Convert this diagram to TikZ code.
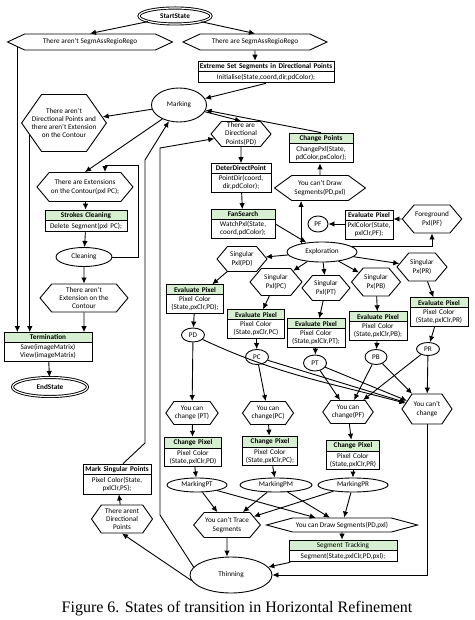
\documentclass[tikz,border=0pt]{standalone}
\usepackage{fontspec}
\setmainfont{Carlito}
\newfontfamily\capfont{Liberation Serif}
\usetikzlibrary{shapes.geometric, shapes.symbols, shapes.multipart, arrows.meta, positioning}
\definecolor{hdrgreen}{RGB}{214,239,208}

\begin{document}
\begin{tikzpicture}[x=1pt, y=-1pt, >={Latex[length=6pt,width=5.5pt]}, line width=0.9pt,
    every node/.style={font=\fontsize{7.2}{8.2}\selectfont},
    hexa/.style={draw, signal, signal to=east and west, signal pointer angle=100, inner sep=1pt, align=center},
    state/.style={draw, ellipse, inner sep=0pt},
    startend/.style={draw, ellipse, double, double distance=1.2pt, inner sep=0pt, font=\fontsize{7.2}{8.2}\selectfont\bfseries},
    box/.style={draw, rectangle split, rectangle split parts=2, rectangle split part fill={hdrgreen,white}, inner xsep=1pt, inner ysep=1.8pt, align=center},
    plainbox/.style={box, rectangle split part fill={white,white}}]
  \useasboundingbox (0,0) rectangle (474,620);
  % start and the two first choices
  \node[startend, minimum width=72pt, minimum height=16pt] (start) at (175,16) {StartState};
  \node[hexa, minimum width=165pt, minimum height=16pt, signal pointer angle=50] (noseg) at (90,42) {There aren't SegmAssRegioRego};
  \node[hexa, minimum width=144pt, minimum height=16pt, signal pointer angle=50] (yesseg) at (255,42) {There are SegmAssRegioRego};
  \node[plainbox, text width=134pt] (extreme) at (266,72) {\textbf{Extreme Set Segments in Directional Points}\nodepart{two}Initialise(State,coord,dir,pdColor);};
  % marking
  \node[state, minimum width=55pt, minimum height=34pt] (marking) at (179,105) {Marking};
  \node[hexa, minimum width=83pt, minimum height=57pt, signal pointer angle=110, inner xsep=-10pt] (nodir) at (64,123) {There aren't\\Directional Points and\\there aren't Extension\\on the Contour};
  \node[hexa, minimum width=60pt, minimum height=25pt, inner ysep=0pt] (dirpts) at (241,134) {There are\\Directional\\Points(PD)};
  \node[box, text width=62pt] (chgpts) at (321,148) {\textbf{Change Points}\nodepart{two}ChangePxl(State,\\pdColor,pxColor);};
  \node[plainbox, text width=58pt] (deter) at (241,178) {\textbf{DeterDirectPoint}\nodepart{two}PointDir(coord,\\dir,pdColor);};
  \node[box, text width=62pt] (fan) at (243,224) {\textbf{FanSearch}\nodepart{two}WatchPxl(State,\\coord,pdColor);};
  \node[hexa, minimum width=91pt, minimum height=25pt, signal pointer angle=72] (cantdraw) at (320,188) {You can't Draw\\Segments(PD,pxl)};
  \node[state, minimum width=20pt, minimum height=16pt] (pf) at (318,224) {PF};
  \node[plainbox, text width=46pt] (evalpf) at (369,225) {\textbf{Evaluate Pixel}\nodepart{two}PxlColor(State,\\pxlClr,PF);};
  \node[hexa, minimum width=59pt, minimum height=28pt] (fore) at (432,219) {Foreground\\Pxl(PF)};
  % exploration
  \node[state, minimum width=70pt, minimum height=20pt] (explor) at (322,252) {Exploration};
  \node[hexa, minimum width=50pt, minimum height=25pt] (singpd) at (242,259) {Singular\\Pxl(PD)};
  \node[hexa, minimum width=52pt, minimum height=27pt] (singpc) at (276,282) {Singular\\Pxl(PC)};
  \node[hexa, minimum width=48pt, minimum height=25pt] (singpt) at (326,288) {Singular\\Pxl(PT)};
  \node[hexa, minimum width=49pt, minimum height=28pt] (singpb) at (376,282) {Singular\\Px(PB)};
  \node[hexa, minimum width=50pt, minimum height=28pt] (singpr) at (422,267) {Singular\\Px(PR)};
  \node[box, text width=55pt] (evalpd) at (195,299) {\textbf{Evaluate Pixel}\nodepart{two}Pixel Color\\(State,pxClr,PD);};
  \node[box, text width=55pt] (evalpc) at (256,324) {\textbf{Evaluate Pixel}\nodepart{two}Pixel Color\\(State,pxClr,PC)};
  \node[box, text width=56pt] (evalpt) at (316,333) {\textbf{Evaluate Pixel}\nodepart{two}Pixel Color\\(State,pxlClr,PT);};
  \node[box, text width=56pt] (evalpb) at (378,326) {\textbf{Evaluate Pixel}\nodepart{two}Pixel Color\\(State,pxlClr,PB);};
  \node[box, text width=56pt] (evalpr) at (439,312) {\textbf{Evaluate Pixel}\nodepart{two}Pixel Color\\(State,pxlClr,PR)};
  \node[state, minimum width=23pt, minimum height=14pt] (pd) at (193,335) {PD};
  \node[state, minimum width=23pt, minimum height=15pt] (pc) at (257,357) {PC};
  \node[state, minimum width=23pt, minimum height=16pt] (pt) at (315,363) {PT};
  \node[state, minimum width=22pt, minimum height=15pt] (pb) at (376,357) {PB};
  \node[state, minimum width=23pt, minimum height=13pt] (pr) at (428,349) {PR};
  % changes
  \node[hexa, minimum width=50pt, minimum height=23pt, signal pointer angle=110] (chgpt) at (192,413) {You can\\change (PT)};
  \node[hexa, minimum width=50pt, minimum height=23pt, signal pointer angle=110] (chgpc) at (268,413) {You can\\change(PC)};
  \node[hexa, minimum width=50pt, minimum height=23pt, signal pointer angle=110] (chgpf) at (348,412) {You can\\change(PF)};
  \node[hexa, minimum width=50pt, minimum height=30pt, signal pointer angle=112] (cantchg) at (427,409) {You can't\\change};
  \node[box, text width=55pt] (cpxpd) at (193,452) {\textbf{Change Pixel}\nodepart{two}Pixel Color\\(State,pxlClr,PD)};
  \node[box, text width=53pt] (cpxpc) at (270,451) {\textbf{Change Pixel}\nodepart{two}Pixel Color\\(State,pxlClr,PC);};
  \node[box, text width=51pt] (cpxpr) at (353,455) {\textbf{Change Pixel}\nodepart{two}Pixel Color\\(State,pxlClr,PR)};
  \node[state, minimum width=60pt, minimum height=14pt] (markpt) at (197,485) {MarkingPT};
  \node[state, minimum width=72pt, minimum height=14pt] (markpm) at (276,485) {MarkingPM};
  \node[state, minimum width=70pt, minimum height=14pt] (markpr) at (353,485) {MarkingPR};
  \node[hexa, minimum width=63pt, minimum height=25pt] (canttrace) at (227,525) {You can't Trace\\Segments};
  \node[hexa, minimum width=151pt, minimum height=14pt, signal pointer angle=30] (candraw) at (342,525) {You can Draw Segments(PD,pxl)};
  \node[box, text width=106pt] (segtrack) at (343,551) {Segment Tracking\nodepart{two}Segment(State,pxlClr,PD,pxl);};
  \node[state, minimum width=82pt, minimum height=36pt] (thin) at (231,575) {Thinning};
  \node[plainbox, text width=66pt] (marksing) at (117,479) {\textbf{Mark Singular Points}\nodepart{two}Pixel Color(State,\\pxlClr,PS);};
  \node[hexa, minimum width=61pt, minimum height=28pt, signal pointer angle=110] (nodirs) at (122,519) {There arent\\Directional\\Points};
  % cleaning column
  \node[hexa, minimum width=96pt, minimum height=29pt] (exts) at (85,187) {There are Extensions\\on the Contour(pxl PC);};
  \node[box, text width=80pt] (strokes) at (86,221) {\textbf{Strokes Cleaning}\nodepart{two}Delete Segment(pxl PC);};
  \node[state, minimum width=56pt, minimum height=19pt] (clean) at (84,257) {Cleaning};
  \node[hexa, minimum width=88pt, minimum height=28pt] (noext) at (84,298) {There aren't\\Extension on the\\Contour};
  \node[box, text width=86pt] (term) at (48,347) {\textbf{Termination}\nodepart{two}Save(imageMatrix)\\View(imageMatrix)};
  \node[startend, minimum width=75pt, minimum height=19pt] (endst) at (50,387) {EndState};
  \node[anchor=base, font=\capfont\fontsize{16}{18}\selectfont] (caption) at (237,612) {Figure 6. States of transition in Horizontal Refinement};
  % connectors at the top
  \draw[->] (start) -- (noseg.north);
  \draw[->] (start) -- (yesseg.north);
  \draw[->] (yesseg) -- (yesseg |- extreme.north);
  \draw[->] (extreme.south) -- (marking);
  \draw[->] (marking) -- (nodir);
  \draw[->] (marking) -- (dirpts.north);
  \draw[->] (chgpts.north) -- (marking);
  \draw[->] (dirpts) -- (deter);
  \draw[->] (deter) -- (fan);
  \draw[->] (fan.east) -- (explor);
  \draw[->] (explor.158) -- (explor.158 |- cantdraw.south);
  \draw[->] (cantdraw) -- (cantdraw |- chgpts.south);
  \draw[->] (explor.10) -| (fore);
  \draw[->] (fore) -- (fore -| evalpf.east);
  \draw[->] (evalpf.west |- pf) -- (pf);
  % exploration to the singular pixels
  \draw[->] (explor) -- (singpd);
  \draw[->] (explor) -- (singpc);
  \draw[->] (explor) -- (singpt);
  \draw[->] (explor) -- (singpb);
  \draw[->] (explor) -- (singpr);
  \draw[->] (singpd) -- (evalpd);
  \draw[->] (singpc) -- (evalpc);
  \draw[->] (singpt) -- (evalpt);
  \draw[->] (singpb) -- (evalpb);
  \draw[->] (singpr) -- (evalpr);
  \draw[->] (evalpd) -- (pd);
  \draw[->] (evalpc) -- (pc);
  \draw[->] (evalpt) -- (pt);
  \draw[->] (evalpb) -- (pb);
  \draw[->] (evalpr) -- (pr);
  % pixel decisions
  \draw[->] (pd) -- (chgpt);
  \draw[->] (pd) to[out=-25, in=165] (cantchg);
  \draw[->] (pc) -- (chgpc);
  \draw[->] (pc) -- (cantchg);
  \draw[->] (pt) -- (chgpf);
  \draw[->] (pt) -- (cantchg);
  \draw[->] (pb) -- (chgpf);
  \draw[->] (pb) -- (cantchg);
  \draw[->] (pr) -- (chgpf);
  \draw[->] (pr) -- (cantchg);
  \draw[->] (chgpt) -- (cpxpd);
  \draw[->] (chgpc) -- (cpxpc);
  \draw[->] (chgpf) -- (cpxpr);
  \draw[->] (cpxpd) -- (markpt);
  \draw[->] (cpxpc) -- (markpm);
  \draw[->] (cpxpr) -- (markpr);
  \draw[->] (markpt) -- (canttrace);
  \draw[->] (markpt) -- (candraw);
  \draw[->] (markpm) -- (canttrace);
  \draw[->] (markpm) -- (candraw);
  \draw[->] (markpr) -- (canttrace);
  \draw[->] (markpr) -- (candraw);
  \draw[->] (candraw) -- (candraw |- segtrack.north);
  \draw[->] (segtrack) -- (thin);
  \draw[->] (canttrace) -- (canttrace |- thin.north);
  \draw[->] (cantchg) |- (thin);
  % thinning back up
  \draw[->] (thin.188) -- (nodirs.south);
  \draw[->] (nodirs) -- (marksing);
  \draw[->] ([xshift=6pt]marksing.north) -- (145,443) -- (145,160) -- (marking);
  \draw[->] (thin.168) -- (160,515) -- (160,148) -- (dirpts);
  % cleaning column
  \draw[->] (marking.220) -- (exts.north);
  \draw[->] (clean) -| (138,165) -| ([xshift=20pt]exts.north);
  \draw[->] (exts) -- (strokes);
  \draw[->] (strokes) -- (clean);
  \draw[->] (clean) -- (noext);
  \draw[->] (noext) -- (noext |- term.north);
  \draw[->] (nodir.200) -- (nodir.200 |- term.north);
  \draw[->] (noseg.184) -- (noseg.184 |- term.north);
  \draw[->] (term) -- (endst);
\end{tikzpicture}
\end{document}
